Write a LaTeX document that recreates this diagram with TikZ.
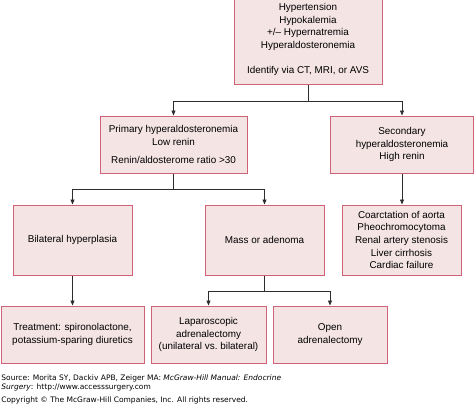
\documentclass[tikz,border=0pt]{standalone}
\usepackage{fontspec}
\setmainfont{Liberation Sans}
\newfontfamily\notefont{DejaVu Sans}
\usetikzlibrary{arrows.meta}
\definecolor{boxfill}{RGB}{244,228,228}
\definecolor{boxline}{RGB}{206,98,118}
\definecolor{arrline}{RGB}{45,45,45}
\begin{document}
\begin{tikzpicture}[x=1pt, y=1pt, >={Triangle[length=5pt, width=4pt]}, line width=0.8pt,
    box/.style={draw=boxline, fill=boxfill, line width=1pt, align=center, inner sep=0pt,
      font=\fontsize{9.9}{12.7}\selectfont},
    link/.style={->, draw=arrline, line width=0.8pt},
    note/.style={anchor=west, inner sep=0pt, font=\notefont\fontsize{7.5}{9}\selectfont}]
  \useasboundingbox (0,0) rectangle (474,-404);
  % first row
  \node[box, minimum width=148pt, minimum height=90pt] (top) at (308,-39.5)
    {Hypertension\\Hypokalemia\\+/-- Hypernatremia\\Hyperaldosteronemia\\ \\Identify via CT, MRI, or AVS};
  % second row
  \node[box, minimum width=147pt, minimum height=57pt] (primary) at (173.5,-144.5)
    {Primary hyperaldosteronemia\\Low renin\\[6pt]Renin/aldosterome ratio >30};
  \node[box, minimum width=143pt, minimum height=57pt] (secondary) at (402,-144.5)
    {Secondary\\hyperaldosteronemia\\High renin};
  % third row
  \node[box, minimum width=119pt, minimum height=70pt] (bilat) at (72.5,-240) {Bilateral hyperplasia};
  \node[box, minimum width=119pt, minimum height=70pt] (mass) at (264.5,-240) {Mass or adenoma};
  \node[box, minimum width=119pt, minimum height=70pt] (causes) at (401.5,-240)
    {Coarctation of aorta\\Pheochromocytoma\\Renal artery stenosis\\Liver cirrhosis\\Cardiac failure};
  % fourth row
  \node[box, minimum width=143pt, minimum height=57pt] (treat) at (72.5,-334.5)
    {Treatment: spironolactone,\\potassium-sparing diuretics};
  \node[box, minimum width=115pt, minimum height=57pt] (lap) at (208.5,-334.5)
    {Laparoscopic\\adrenalectomy\\(unilateral vs.\ bilateral)};
  \node[box, minimum width=114pt, minimum height=57pt] (open) at (330,-334.5)
    {Open\\adrenalectomy};

  \draw[link] (top.south) -- ++(0,-16) -| (primary.north);
  \draw[link] (top.south) -- ++(0,-16) -| (secondary.north);
  \draw[link] (primary.south) -- ++(0,-16) -| (bilat.north);
  \draw[link] (primary.south) -- ++(0,-16) -| (mass.north);
  \draw[link] (secondary.south) -- (secondary.south |- causes.north);
  \draw[link] (bilat.south) -- (treat.north);
  \draw[link] (mass.south) -- ++(0,-16) -| (lap.north);
  \draw[link] (mass.south) -- ++(0,-16) -| (open.north);

  % source lines
  \node[note] (src) at (1,-378) {Source: Morita SY, Dackiv APB, Zeiger MA: \textit{McGraw-Hill Manual: Endocrine}};
  \node[note] (url) at (1,-387.5) {\textit{Surgery}: http://www.accesssurgery.com};
  \node[note] (cpy) at (1,-400) {Copyright \textcopyright{} The McGraw-Hill Companies, Inc. All rights reserved.};
\end{tikzpicture}
\end{document}
